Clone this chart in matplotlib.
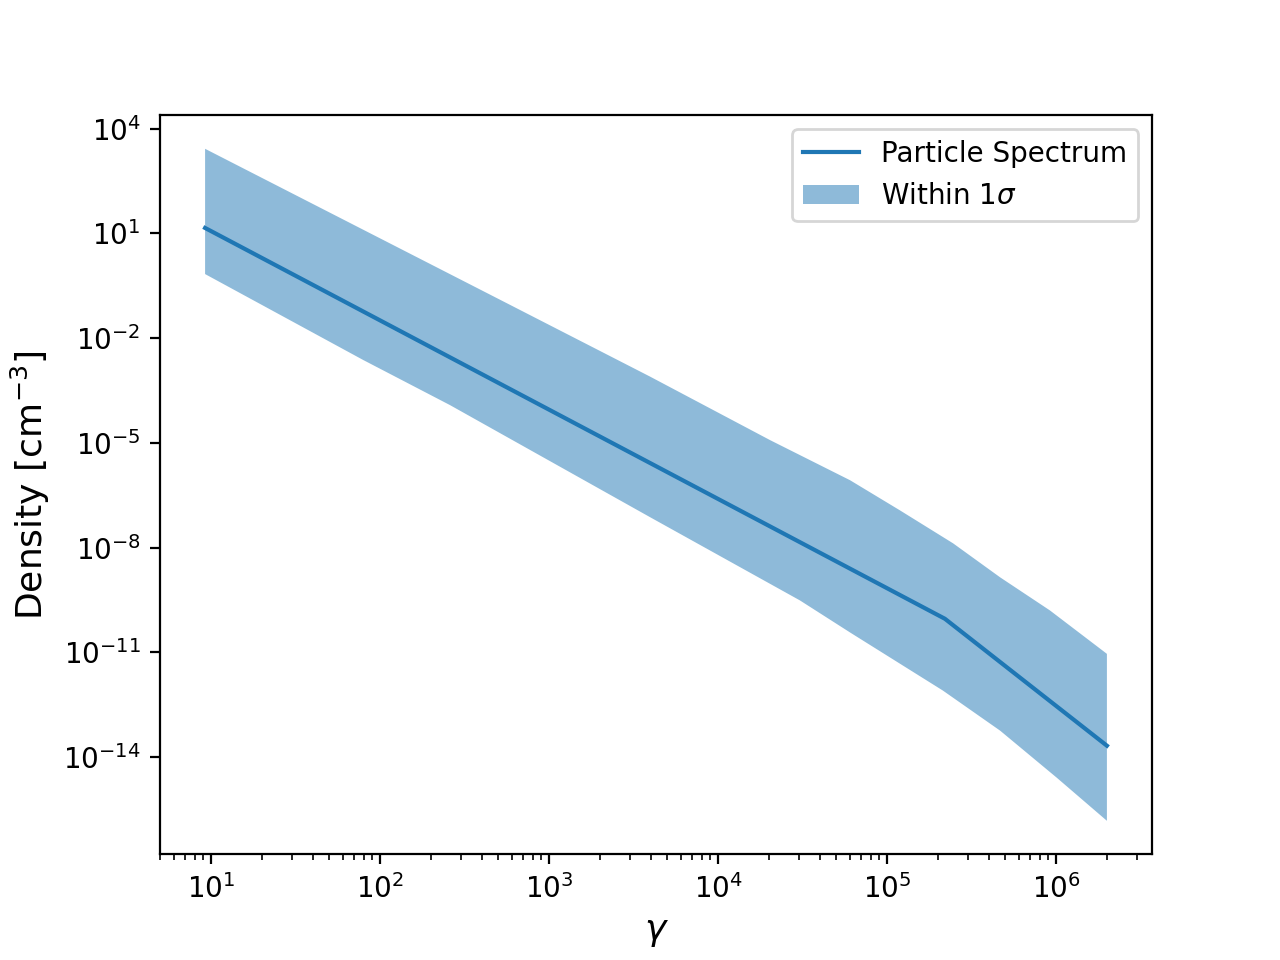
#!/usr/bin/env python3

import matplotlib
matplotlib.use("Agg")
import matplotlib.pyplot as plt
import numpy as np

# best-fit broken power law (start, break, end)
gamma_line = [9.21, 2.2e5, 2.0e6]
density_line = [14.4, 9.1e-11, 2.1e-14]

# 1 sigma envelope, upper edge
gamma_upper = [9.21, 513, 3963, 2.03e4, 6.04e4, 1.19e5, 2.46e5, 4.67e5, 9.2e5, 2.0e6]
density_upper = [2.67e3, 0.126, 7.9e-4, 1.2e-5, 8.5e-7, 1.17e-7, 1.32e-8, 1.4e-9, 1.58e-10, 9.0e-12]

# 1 sigma envelope, lower edge
gamma_lower = [9.21, 79.3, 259, 3963, 3.05e4, 6.04e4, 2.14e5, 4.67e5, 1.01e6, 2.0e6]
density_lower = [0.687, 2.38e-3, 1.21e-4, 7.4e-8, 3.06e-10, 3.69e-11, 7.98e-13, 5.66e-14, 2.54e-15, 1.48e-16]


def main():
    fig, ax = plt.subplots(figsize=(6.4, 4.8), dpi=200)

    ax.plot(gamma_line, density_line, color="C0", label="Particle Spectrum")

    poly_x = np.concatenate([gamma_upper, gamma_lower[::-1]])
    poly_y = np.concatenate([density_upper, density_lower[::-1]])
    ax.fill(poly_x, poly_y, color="C0", alpha=0.5, linewidth=0, label=r"Within 1$\sigma$")

    ax.set_xscale("log")
    ax.set_yscale("log")
    ax.set_xlabel(r"$\gamma$", fontsize=13)
    ax.set_ylabel(r"Density [cm$^{-3}$]", fontsize=13)
    ax.legend(loc="upper right")

    fig.savefig("out.png", dpi=200)


if __name__ == "__main__":
    main()
